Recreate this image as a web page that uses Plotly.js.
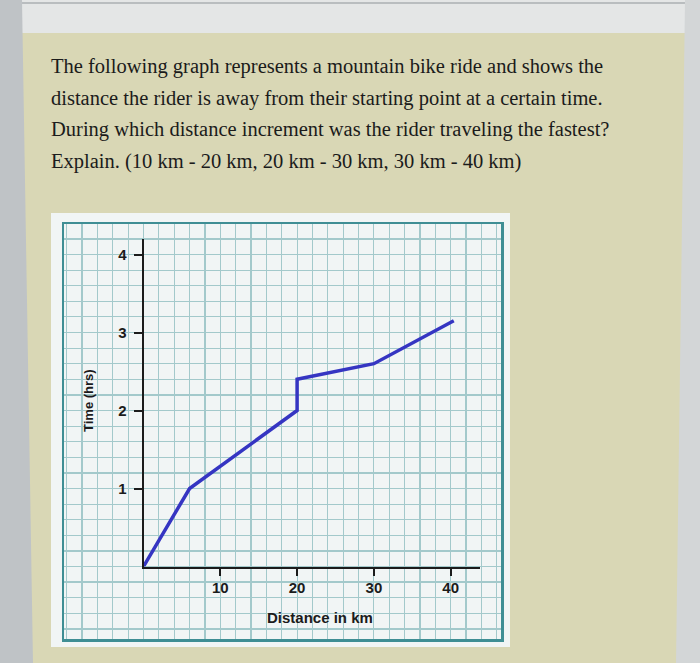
<!DOCTYPE html>
<html>
<head>
<meta charset="utf-8">
<script src="https://cdn.plot.ly/plotly-3.0.1.min.js"></script>
<style>
  html, body { margin: 0; padding: 0; background: #d9d7b5; }
  #chart { width: 700px; height: 663px; }
</style>
</head>
<body>
<div id="chart"></div>
<script>
(() => {
    // ---------- data ----------
    const distanceKm = [0, 6, 20, 20, 30, 40.4];
    const timeHrs = [0, 1, 2, 2.4, 2.6, 3.15];
    const xTickVals = [10, 20, 30, 40];
    const yTickVals = [1, 2, 3, 4];
    const xTitle = "Distance in km";
    const yTitle = "Time (hrs)";
    const questionLines = [
        "The following graph represents a mountain bike ride and shows the",
        "distance the rider is away from their starting point at a certain time.",
        "During which distance increment was the rider traveling the fastest?",
        "Explain. (10 km - 20 km, 20 km - 30 km, 30 km - 40 km)",
    ];

    // ---------- page geometry (pixels) ----------
    const W = 700, H = 663;
    const X0_PX = 143.5, Y0_PX = 566.5;      // where 0 km / 0 hrs sit
    const PX_PER_KM = 7.68, PX_PER_HR = 78;
    const GRID = { l: 64, r: 501, t: 224, b: 639 };   // teal graph-paper box
    const AXES = { l: X0_PX, r: 480, t: 239, b: Y0_PX };

    const fx = (px) => px / W;
    const fy = (py) => 1 - py / H;
    const kmAt = (px) => (px - X0_PX) / PX_PER_KM;
    const hrAt = (py) => (Y0_PX - py) / PX_PER_HR;

    const INK = "#1b1b1b";
    const tickFont = { family: "Liberation Sans, Arial, sans-serif", size: 15, color: INK, weight: "bold" };

    const traces = [
        // empty trace so the graph-paper subplot gets drawn
        { x: [], y: [], xaxis: "x", yaxis: "y", type: "scatter", mode: "lines", hoverinfo: "skip" },
        {
            x: distanceKm, y: timeHrs, xaxis: "x2", yaxis: "y2",
            type: "scatter", mode: "lines",
            line: { color: "#3535c2", width: 3.5 },
            hoverinfo: "skip",
        },
    ];

    // background pieces of the photo: gray edges, khaki sheet, white graph card
    const shapes = [
        { type: "rect", xref: "paper", yref: "paper", x0: 0, x1: 1, y0: fy(33), y1: 1, fillcolor: "#e4e6e6", line: { width: 0 }, layer: "below" },
        { type: "rect", xref: "paper", yref: "paper", x0: 0, x1: 1, y0: fy(4), y1: fy(2), fillcolor: "#b9bdbf", line: { width: 0 }, layer: "below" },
        { type: "path", xref: "paper", yref: "paper", layer: "below", fillcolor: "#bfc3c6", line: { width: 0 },
          path: `M 0 1 L ${fx(22)} 1 L ${fx(33)} 0 L 0 0 Z` },
        { type: "path", xref: "paper", yref: "paper", layer: "below", fillcolor: "#d3d6d7", line: { width: 0 },
          path: `M 1 1 L ${fx(685)} 1 L ${fx(676)} 0 L 1 0 Z` },
        { type: "rect", xref: "paper", yref: "paper", layer: "below", fillcolor: "#f1f5f5", line: { width: 0 },
          x0: fx(51), x1: fx(510), y0: fy(647), y1: fy(213) },
    ];

    const annotations = questionLines.map((txt, i) => ({
        text: txt, xref: "paper", yref: "paper",
        x: fx(49), y: fy(67 + i * 31.5), xanchor: "left", yanchor: "middle",
        showarrow: false,
        font: { family: "Liberation Serif, Times New Roman, serif", size: 20.5, color: INK },
    }));
    annotations.push({
        text: xTitle, xref: "paper", yref: "paper", x: fx(320), y: fy(617),
        xanchor: "center", yanchor: "middle", showarrow: false,
        font: { family: "Liberation Sans, Arial, sans-serif", size: 15, color: INK, weight: "bold" },
    });
    annotations.push({
        text: yTitle, xref: "paper", yref: "paper", x: fx(88), y: fy(401), textangle: -90,
        xanchor: "center", yanchor: "middle", showarrow: false,
        font: { family: "Liberation Sans, Arial, sans-serif", size: 13, color: INK, weight: "bold" },
    });

    const gridAxis = {
        tick0: 0, showticklabels: false, ticks: "",
        showgrid: true, gridcolor: "#a3c9cb", gridwidth: 1.2, zeroline: false,
        showline: true, mirror: true, linecolor: "#3f8e94", linewidth: 2.5,
        fixedrange: true,
    };
    const drawnAxis = {
        tickmode: "array", ticks: "outside", tickwidth: 2, tickcolor: INK, tickfont: tickFont,
        showgrid: false, zeroline: false, showline: true, linecolor: INK, linewidth: 2,
        fixedrange: true,
    };

    const layout = {
        width: W, height: H,
        margin: { t: 0, r: 0, b: 0, l: 0 },
        paper_bgcolor: "#d9d7b5",
        plot_bgcolor: "rgba(0,0,0,0)",
        showlegend: false,
        // graph paper: same km/hr scale as the data axes, just wider
        xaxis: Object.assign({}, gridAxis, {
            domain: [fx(GRID.l), fx(GRID.r)], range: [kmAt(GRID.l), kmAt(GRID.r)], dtick: 2,
        }),
        yaxis: Object.assign({}, gridAxis, {
            domain: [fy(GRID.b), fy(GRID.t)], range: [hrAt(GRID.b), hrAt(GRID.t)], dtick: 0.2,
        }),
        // the drawn axes of the chart
        xaxis2: Object.assign({}, drawnAxis, {
            domain: [fx(AXES.l), fx(AXES.r)], range: [0, kmAt(AXES.r)], anchor: "y2",
            tickvals: xTickVals, ticklen: 7, ticklabelstandoff: -1,
        }),
        yaxis2: Object.assign({}, drawnAxis, {
            domain: [fy(AXES.b), fy(AXES.t)], range: [0, hrAt(AXES.t)], anchor: "x2",
            tickvals: yTickVals, ticklen: 8, ticklabelstandoff: 4,
        }),
        shapes, annotations,
    };

    Plotly.newPlot("chart", traces, layout, { displayModeBar: false, staticPlot: true });
})();
</script>
</body>
</html>
